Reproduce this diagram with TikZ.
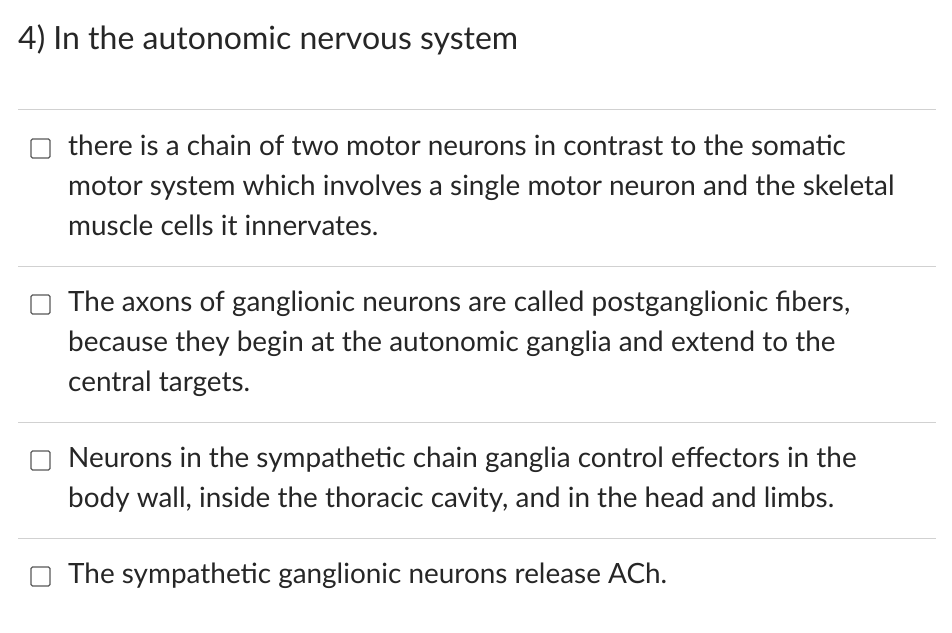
\documentclass[tikz,border=0pt]{standalone}
\usepackage{fontspec}
\setmainfont{Lato}
\begin{document}
\begin{tikzpicture}[x=1pt,y=-1pt,
  txt/.style={anchor=base west,inner sep=0,text=black!85,font=\fontsize{27.9}{32}\selectfont},
  sep/.style={draw=black!18,line width=1pt},
  cbox/.style={draw=black!65,line width=1.2pt,rounded corners=1.5pt}]
\useasboundingbox[fill=white] (0,0) rectangle (952,632);
\node[anchor=base west,inner sep=0,text=black!85,font=\fontsize{32}{36}\selectfont] (title) at (18,49) {4) In the autonomic nervous system};
\foreach \y [count=\i] in {109,266,422,538} \draw[sep] (18,\y) coordinate (s\i) -- (936,\y);
\draw[cbox] (31,139) rectangle (50,158);
\node[txt] (a1) at (68,155) {there is a chain of two motor neurons in contrast to the somatic};
\node[txt] (a2) at (68,195) {motor system which involves a single motor neuron and the skeletal};
\node[txt] (a3) at (68,235) {muscle cells it innervates.};
\draw[cbox] (31,295) rectangle (50,314);
\node[txt] (b1) at (68,311) {The axons of ganglionic neurons are called postganglionic fibers,};
\node[txt] (b2) at (68,351) {because they begin at the autonomic ganglia and extend to the};
\node[txt] (b3) at (68,391) {central targets.};
\draw[cbox] (31,451) rectangle (50,470);
\node[txt] (c1) at (68,467) {Neurons in the sympathetic chain ganglia control effectors in the};
\node[txt] (c2) at (68,507) {body wall, inside the thoracic cavity, and in the head and limbs.};
\draw[cbox] (31,567) rectangle (50,586);
\node[txt] (d1) at (68,583) {The sympathetic ganglionic neurons release ACh.};
\end{tikzpicture}
\end{document}
